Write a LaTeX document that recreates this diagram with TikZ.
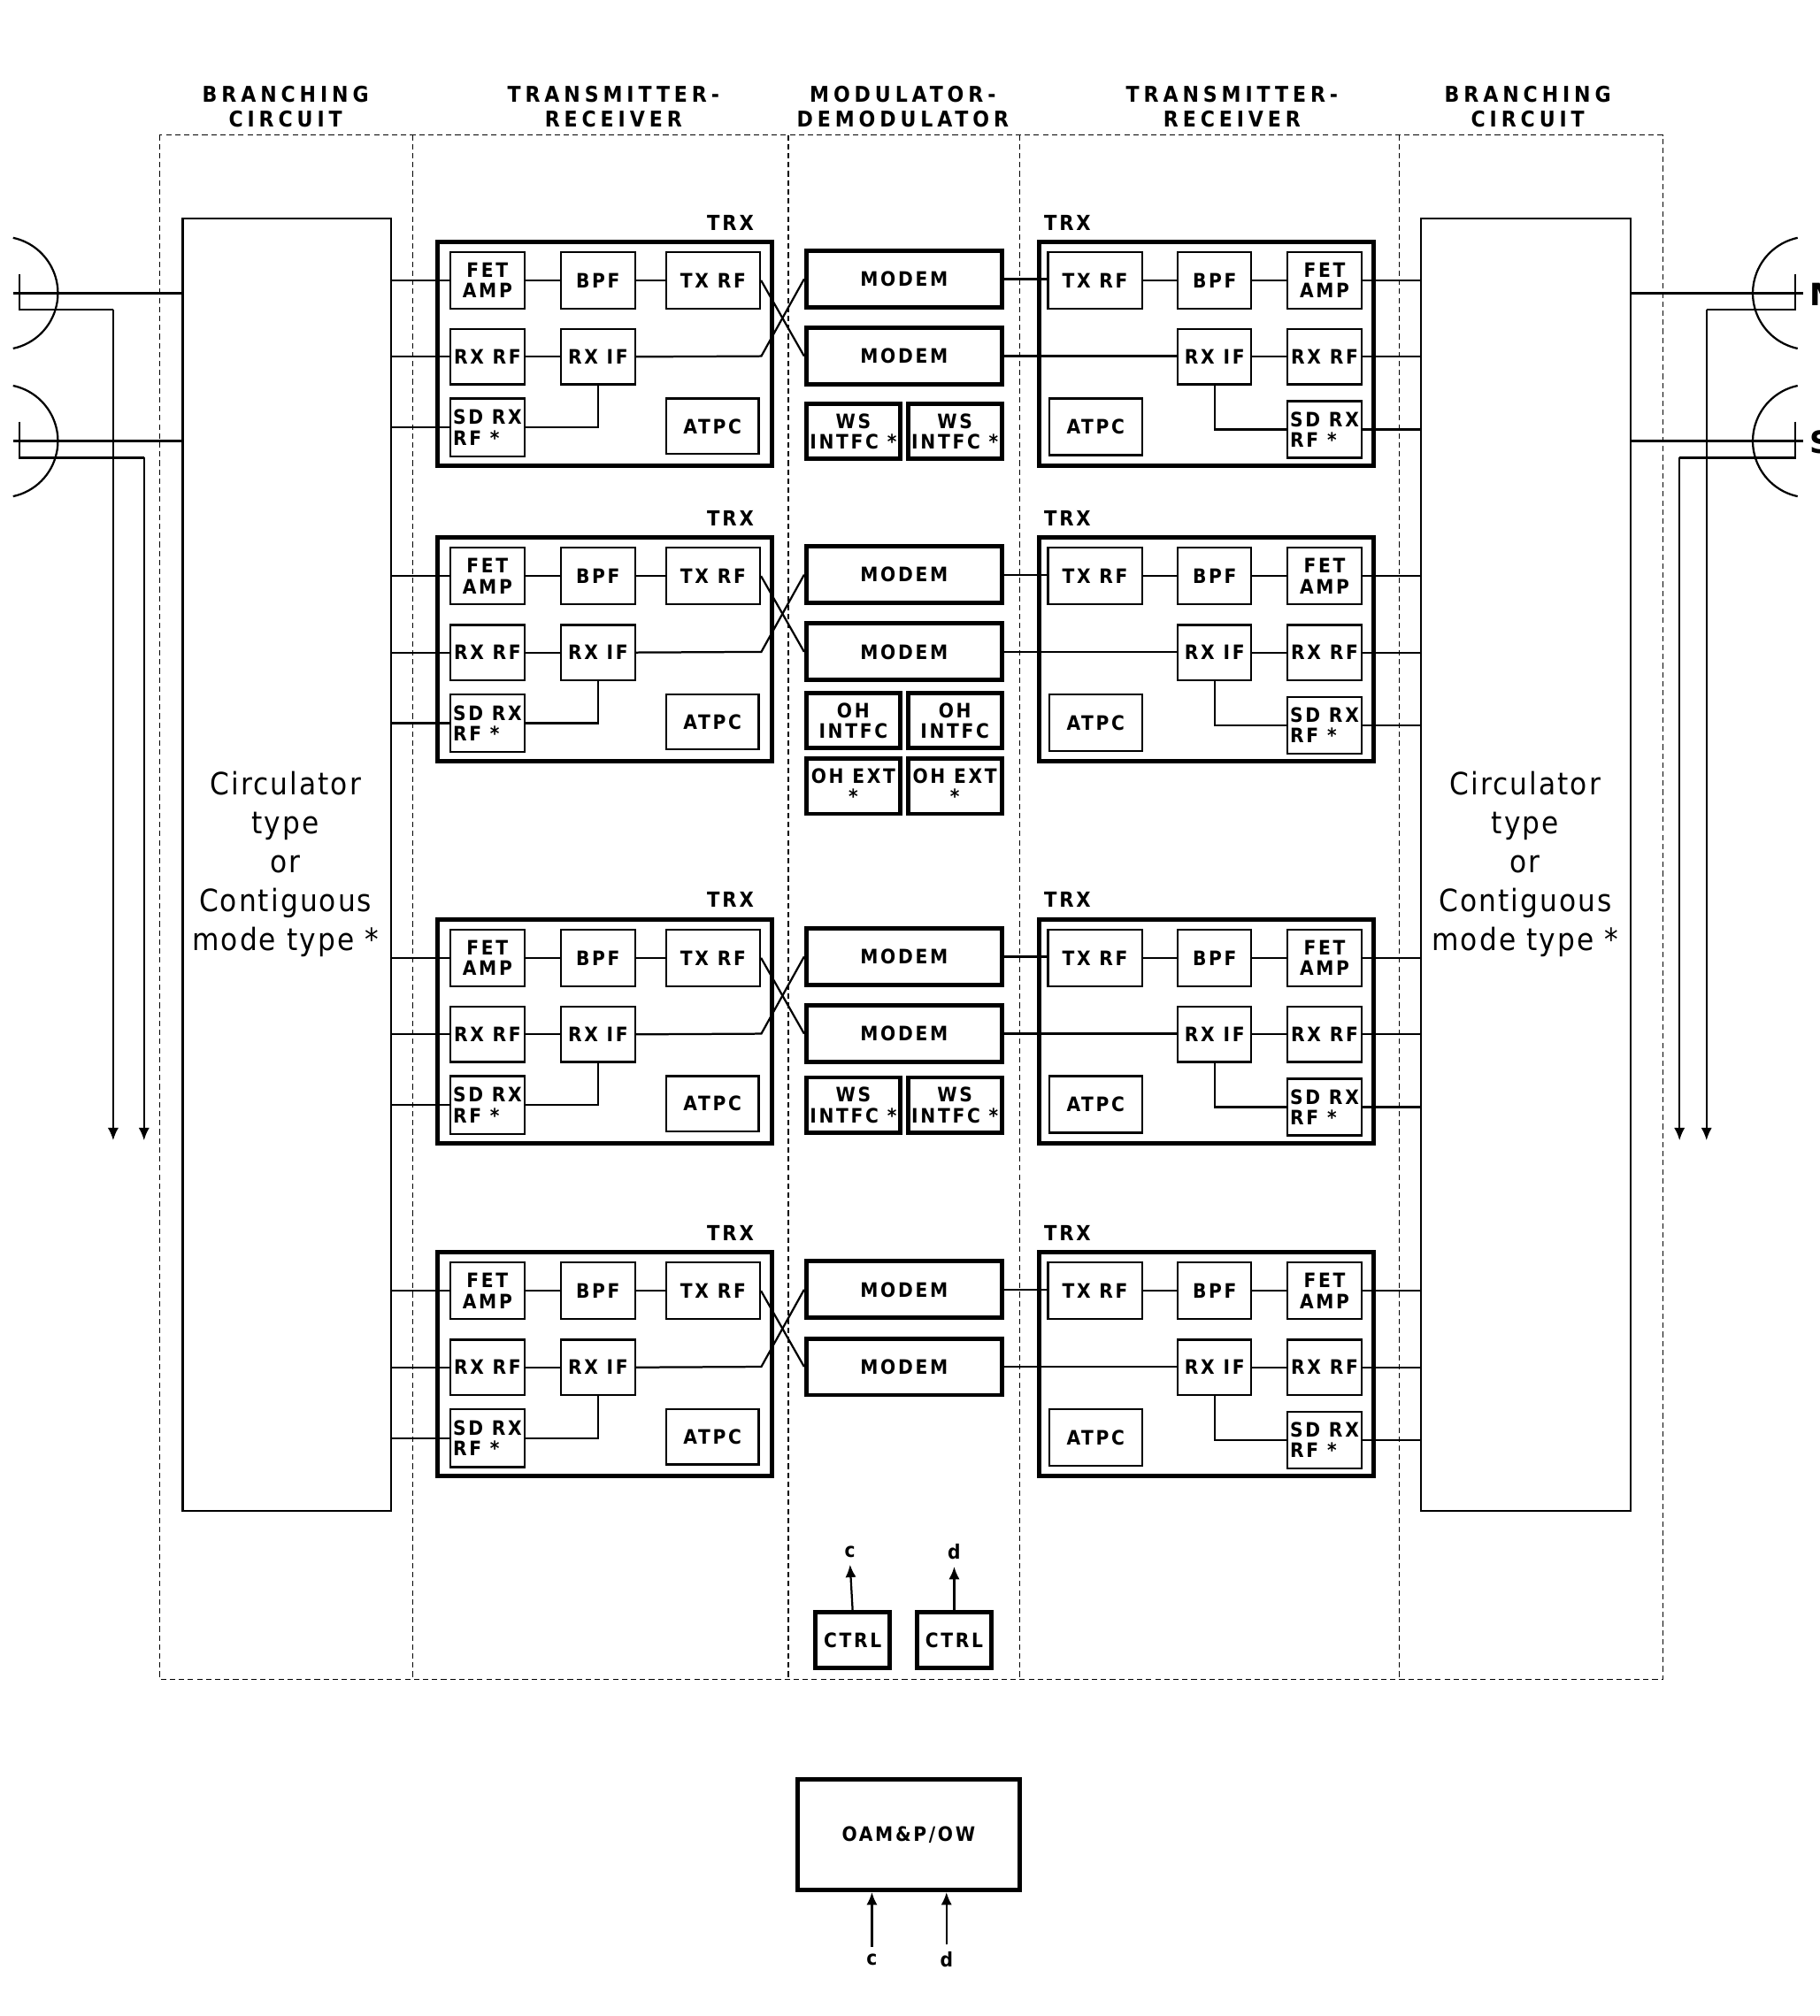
\documentclass[tikz,border=0pt]{standalone}
\usepackage{fontspec}
\setmainfont{DejaVu Sans}
\newfontfamily\lbl[LetterSpace=12]{DejaVu Sans Condensed Bold}
\newfontfamily\hdr[LetterSpace=20]{DejaVu Sans Condensed Bold}
\newfontfamily\circf[LetterSpace=6]{DejaVu Sans Condensed}
\usetikzlibrary{arrows.meta}
% \bxat[style]{name}{x1}{y1}{x2}{y2}{text}
\newcommand\bxat[7][bx]{\node[#1,minimum width={((#5)-(#3))*0.25mm},minimum height={((#6)-(#4))*0.25mm}] (#2) at ({((#3)+(#5))/2},{((#4)+(#6))/2}) {#7};}
\begin{document}
\begin{tikzpicture}[x=0.25mm,y=-0.25mm,line width=1.1pt,
  bx/.style={draw,inner sep=0pt,line width=1.1pt,align=center,font=\lbl\fontsize{11}{11.5}\selectfont},
  bxl/.style={bx,align=left},
  blk/.style={draw,inner sep=0pt,line width=2.4pt},
  thn/.style={draw,inner sep=0pt,line width=1.1pt},
  thk/.style={bx,line width=2.4pt},
  dsh/.style={line width=0.7pt,dash pattern=on 3pt off 2pt},
  hd/.style={align=center,font=\hdr\fontsize{12}{14}\selectfont},
  ar/.style={-{Latex[length=7pt,width=6pt]}}]
\useasboundingbox (0,0) rectangle (1415,1568);
% frame
\draw[dsh] (124,105) rectangle (1293,1306);
\foreach \x in {321,613,793,1088} \draw[dsh] (\x,105) -- (\x,1306);
\node[hd] at (222,83) {BRANCHING\\CIRCUIT};
\node[hd] at (477,83) {TRANSMITTER-\\RECEIVER};
\node[hd] at (702,83) {MODULATOR-\\DEMODULATOR};
\node[hd] at (958,83) {TRANSMITTER-\\RECEIVER};
\node[hd] at (1188,83) {BRANCHING\\CIRCUIT};
% branching boxes
\bxat[thn]{LBr}{142}{170}{304}{1175}{}
\bxat[thn]{RBr}{1105}{170}{1268}{1175}{}
\node[align=center,font=\circf\fontsize{17}{21.5}\selectfont] at (222,672) {Circulator\\type\\or\\Contiguous\\mode type *};
\node[align=center,font=\circf\fontsize{17}{21.5}\selectfont] at (1186,672) {Circulator\\type\\or\\Contiguous\\mode type *};
% antennas left
\draw (1,228) ++(-78:44) arc[start angle=-78,end angle=78,radius=44];
\draw (1,343) ++(-78:44) arc[start angle=-78,end angle=78,radius=44];
\coordinate (aM) at (10,228); \coordinate (aS) at (10,343);
\draw (aM) -- (aM -| LBr.west);
\draw (aS) -- (aS -| LBr.west);
\draw (15,213) -- (15,241) -- (88,241);
\draw[ar] (88,241) -- (88,887);
\draw (15,328) -- (15,356) -- (112,356);
\draw[ar] (112,356) -- (112,887);
% antennas right
\draw (1407,228) ++(102:44) arc[start angle=102,end angle=258,radius=44];
\draw (1407,343) ++(102:44) arc[start angle=102,end angle=258,radius=44];
\coordinate (bM) at (1402,228); \coordinate (bS) at (1402,343);
\draw (bM) -- (bM -| RBr.east);
\draw (bS) -- (bS -| RBr.east);
\draw (1396,213) -- (1396,241) -- (1327,241);
\draw[ar] (1327,241) -- (1327,887);
\draw (1396,328) -- (1396,356) -- (1306,356);
\draw[ar] (1306,356) -- (1306,887);
\node[anchor=west,font=\bfseries\fontsize{17}{17}\selectfont] at (1402,229) {M};
\node[anchor=west,font=\bfseries\fontsize{17}{17}\selectfont] at (1402,344) {S};
% blocks
\foreach \i/\T in {1/188,2/418,3/715,4/974}{
  % left TRX
  \bxat[blk]{LB\i}{340}{\T}{600}{\T+174}{}
  \node[font=\lbl\fontsize{11.5}{12}\selectfont] at (568,\T-15) {TRX};
  \bxat{Lfet\i}{350}{\T+8}{408}{\T+52}{FET\\AMP}
  \bxat{Lbpf\i}{436}{\T+8}{494}{\T+52}{BPF}
  \bxat{Ltx\i}{518}{\T+8}{591}{\T+52}{TX RF}
  \bxat{Lrx\i}{350}{\T+68}{408}{\T+111}{RX RF}
  \bxat{Lrif\i}{436}{\T+68}{494}{\T+111}{RX IF}
  \bxat[bxl]{Lsd\i}{350}{\T+122}{408}{\T+167}{SD RX\\RF *}
  \bxat{Lat\i}{518}{\T+122}{590}{\T+165}{ATPC}
  \draw (LBr.east |- Lfet\i) -- (Lfet\i);
  \draw (LBr.east |- Lrx\i) -- (Lrx\i);
  \draw (LBr.east |- Lsd\i) -- (Lsd\i);
  \draw (Lfet\i) -- (Lbpf\i);
  \draw (Lbpf\i) -- (Ltx\i);
  \draw (Lrx\i) -- (Lrif\i);
  \draw (Lrif\i.south) |- (Lsd\i.east);
  % modems
  \bxat[thk]{Ma\i}{627}{\T+7}{779}{\T+51}{MODEM}
  \bxat[thk]{Mb\i}{627}{\T+67}{779}{\T+111}{MODEM}
  \coordinate (X\i) at (592,\T+89);
  \draw (Lrif\i.east) -- (X\i) -- (Ma\i.west);
  \draw (Ltx\i.east) -- (Mb\i.west);
  % right TRX
  \bxat[blk]{RB\i}{808}{\T}{1068}{\T+174}{}
  \node[font=\lbl\fontsize{11.5}{12}\selectfont] at (830,\T-15) {TRX};
  \bxat{Rtx\i}{815}{\T+8}{888}{\T+52}{TX RF}
  \bxat{Rbpf\i}{916}{\T+8}{973}{\T+52}{BPF}
  \bxat{Rfet\i}{1001}{\T+8}{1059}{\T+52}{FET\\AMP}
  \bxat{Rrif\i}{916}{\T+68}{973}{\T+111}{RX IF}
  \bxat{Rrx\i}{1001}{\T+68}{1059}{\T+111}{RX RF}
  \bxat{Rat\i}{816}{\T+122}{888}{\T+166}{ATPC}
  \bxat[bxl]{Rsd\i}{1001}{\T+124}{1059}{\T+168}{SD RX\\RF *}
  \draw (Ma\i) -- (Rtx\i.west |- Ma\i);
  \draw (Mb\i) -- (Rrif\i.west |- Mb\i);
  \draw (Rtx\i) -- (Rbpf\i);
  \draw (Rbpf\i) -- (Rfet\i);
  \draw (Rrif\i) -- (Rrx\i);
  \draw (Rrif\i.south) |- (Rsd\i.west);
  \draw (Rfet\i) -- (RBr.west |- Rfet\i);
  \draw (Rrx\i) -- (RBr.west |- Rrx\i);
  \draw (Rsd\i) -- (RBr.west |- Rsd\i);
}
% extra modem column boxes
\bxat[thk]{w1a}{627}{314}{700}{357}{WS\\INTFC *}
\bxat[thk]{w1b}{706}{314}{779}{357}{WS\\INTFC *}
\bxat[thk]{o1a}{627}{539}{700}{582}{OH\\INTFC}
\bxat[thk]{o1b}{706}{539}{779}{582}{OH\\INTFC}
\bxat[thk]{o2a}{627}{590}{700}{633}{OH EXT\\*}
\bxat[thk]{o2b}{706}{590}{779}{633}{OH EXT\\*}
\bxat[thk]{w3a}{627}{838}{700}{881}{WS\\INTFC *}
\bxat[thk]{w3b}{706}{838}{779}{881}{WS\\INTFC *}
% CTRL
\bxat[thk]{c1}{634}{1254}{692}{1297}{CTRL}
\bxat[thk]{c2}{713}{1254}{771}{1297}{CTRL}
\node[font=\lbl\fontsize{11}{11}\selectfont] (cl) at (661,1207) {c};
\node[font=\lbl\fontsize{11}{11}\selectfont] (dl) at (742,1207) {d};
\draw[ar] (c1.north) -- (cl.south);
\draw[ar] (c2.north) -- (dl.south);
% OAM
\bxat[thk]{oam}{620}{1384}{793}{1470}{OAM\&P/OW}
\node[font=\lbl\fontsize{11}{11}\selectfont] (cb) at (678,1524) {c};
\node[font=\lbl\fontsize{11}{11}\selectfont] (db) at (736,1524) {d};
\draw[ar] (cb.north) -- (cb.north |- oam.south);
\draw[ar] (db.north) -- (db.north |- oam.south);
\end{tikzpicture}
\end{document}
